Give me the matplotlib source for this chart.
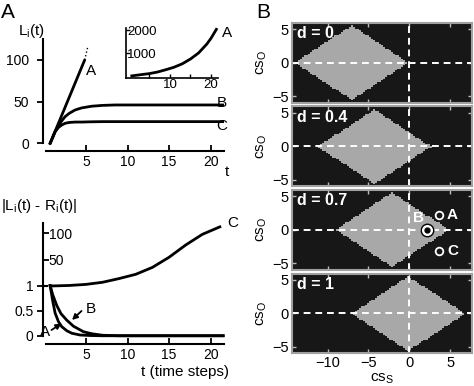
import numpy as np
import matplotlib.pyplot as plt
from matplotlib.colors import ListedColormap

plt.rcParams['font.family'] = ['Liberation Sans', 'DejaVu Sans']
plt.rcParams['font.size'] = 10
plt.rcParams['mathtext.fontset'] = 'custom'
plt.rcParams['mathtext.rm'] = 'Liberation Sans'
plt.rcParams['mathtext.it'] = 'Liberation Sans'

W, H = 474, 386

# ---- panel A, top: L_i(t) ----
t_a = [0.7, 4.85]
len_a = [0, 100]
t_a_dot = [4.85, 5.25]
len_a_dot = [100, 117]
t_bc = [0.7, 1.3, 1.7, 2.1, 2.5, 3.0, 3.7, 4.5, 5.7, 7.0, 8.5, 12, 21.5]
len_b = [0, 14, 21, 27, 32, 36, 40, 42.5, 44.5, 45.5, 46, 46, 46]
len_c = [0, 14, 19, 22, 24, 25, 25.5, 25.5, 25.8, 26, 26, 26, 26]

# inset: A over the whole run
t_inset = [0.7, 3, 5, 7, 9, 11, 13, 15, 17, 19, 20, 21.3]
len_inset = [0, 55, 100, 170, 270, 380, 530, 740, 1010, 1400, 1650, 2040]

# ---- panel A, bottom: |L_i(t) - R_i(t)| ----
t_diff_c = [0.7, 3, 5, 7, 9, 11, 13, 15, 17, 19, 21.1]
diff_c = [1, 2, 4, 8, 15, 23, 36, 55, 78, 98, 112]
t_diff_a = [0.7, 1.0, 1.3, 1.7, 2.1, 2.7, 3.3, 4.3, 5.5, 7, 21.5]
diff_a = [1, 0.7, 0.45, 0.28, 0.18, 0.1, 0.05, 0.015, 0.005, 0, 0]
t_diff_b = [0.7, 1.0, 1.5, 2.0, 2.7, 3.5, 4.7, 5.7, 7, 9, 21.5]
diff_b = [1, 0.82, 0.6, 0.44, 0.31, 0.19, 0.08, 0.04, 0.01, 0, 0]

# ---- panel B: regions in (cs_S, cs_O) ----
d_values = ['0', '0.4', '0.7', '1']
diamond_center = [-7.0, -4.2, -2.0, 0.0]
diamond_half_w = 7.0
diamond_half_h = 5.6
pts_label = ['A', 'B', 'C']
pts_x = [3.7, 2.2, 3.7]
pts_y = [2.2, 0.0, -3.1]


def px_axes(left, top, right, bottom):
    return fig.add_axes([left / W, 1 - bottom / H, (right - left) / W, (bottom - top) / H])


def ftxt(x, y, s, **kw):
    fig.text(x / W, 1 - y / H, s, **kw)


def farrow(x0, y0, x1, y1):
    # small arrow between two pixel positions of the figure
    fig.add_artist(plt.Annotation('', xy=(x1 / W, 1 - y1 / H), xytext=(x0 / W, 1 - y0 / H),
                                  xycoords='figure fraction',
                                  arrowprops=dict(arrowstyle='-|>', color='black', lw=1.3,
                                                  mutation_scale=8, shrinkA=0, shrinkB=0)))


fig = plt.figure(figsize=(W / 100, H / 100), dpi=100)

lw = 2.0

# main L_i(t)
ax = px_axes(43, 30, 224, 150.7)
ax.plot(t_a, len_a, color='black', lw=lw, solid_capstyle='round')
ax.plot(t_a_dot, len_a_dot, color='black', lw=1.0, ls=':')
ax.plot(t_bc, len_b, color='black', lw=lw)
ax.plot(t_bc, len_c, color='black', lw=lw)
ax.set_xlim(-0.16, 21.6)
ax.set_ylim(-8.9, 136)
for s in ['top', 'right']:
    ax.spines[s].set_visible(False)
ax.spines['left'].set_bounds(0, 125)
ax.spines['bottom'].set_bounds(0.2, 21.6)
for s in ['left', 'bottom']:
    ax.spines[s].set_linewidth(1.5)
ax.set_yticks([0, 50, 100])
ax.set_xticks([5, 10, 15, 20])
ax.tick_params(axis='y', direction='out', length=4, width=1.3, labelsize=10, pad=6)
ax.tick_params(axis='x', direction='in', length=4, width=1.3, labelsize=10, pad=3)
ax.patch.set_alpha(0)

# inset
axi = px_axes(126, 28, 218, 77.7)
axi.plot(t_inset, len_inset, color='black', lw=lw, clip_on=False)
axi.set_xlim(-0.7, 21.7)
axi.set_ylim(-80, 2100)
for s in ['top', 'right']:
    axi.spines[s].set_visible(False)
for s in ['left', 'bottom']:
    axi.spines[s].set_linewidth(1.2)
axi.set_yticks([1000, 2000])
axi.set_xticks([10, 20])
axi.set_xticks([5, 15], minor=True)
axi.tick_params(axis='y', direction='in', length=3, width=1, labelsize=9.5, pad=-1)
for lab in axi.get_yticklabels():
    lab.set_horizontalalignment('left')
axi.tick_params(axis='x', which='both', direction='in', length=3, width=1, labelsize=9.5, pad=1)
axi.patch.set_alpha(0)

# bottom, upper part (C)
axu = px_axes(43, 222.6, 224, 286)
axu.plot(t_diff_c, diff_c, color='black', lw=lw, clip_on=False)
axu.set_xlim(-0.16, 21.6)
axu.set_ylim(1, 120)
for s in ['top', 'right']:
    axu.spines[s].set_visible(False)
axu.spines['bottom'].set_bounds(-0.16, 0.3)
for s in ['left', 'bottom']:
    axu.spines[s].set_linewidth(1.5)
axu.set_xticks([])
axu.set_yticks([50, 100])
axu.tick_params(axis='y', direction='in', length=4, width=1.3, labelsize=10, pad=-4)
for lab in axu.get_yticklabels():
    lab.set_horizontalalignment('left')
axu.patch.set_alpha(0)

# bottom, lower part (A, B)
axl = px_axes(43, 285.5, 224, 344)
axl.plot(t_diff_a, diff_a, color='black', lw=lw, clip_on=False)
axl.plot(t_diff_b, diff_b, color='black', lw=lw, clip_on=False)
axl.set_xlim(-0.16, 21.6)
axl.set_ylim(-0.164, 1.0)
for s in ['top', 'right']:
    axl.spines[s].set_visible(False)
axl.spines['left'].set_bounds(0, 1)
axl.spines['bottom'].set_bounds(0.2, 21.6)
for s in ['left', 'bottom']:
    axl.spines[s].set_linewidth(1.5)
axl.set_yticks([0, 0.5, 1])
axl.set_yticklabels(['0', '0.5', '1'])
axl.set_xticks([5, 10, 15, 20])
axl.tick_params(axis='y', direction='out', length=4, width=1.3, labelsize=10, pad=3)
axl.tick_params(axis='x', direction='in', length=4, width=1.3, labelsize=10, pad=3)
axl.patch.set_alpha(0)

# panel A texts
ftxt(8, 12, 'A', fontsize=15, ha='center', va='center')
ftxt(31, 31, r'L$_\mathregular{i}$(t)', fontsize=11, ha='center', va='center')
ftxt(91, 71, 'A', fontsize=11, ha='center', va='center')
ftxt(222, 103, 'B', fontsize=11, ha='center', va='center')
ftxt(222, 126, 'C', fontsize=11, ha='center', va='center')
ftxt(227, 33, 'A', fontsize=11, ha='center', va='center')
ftxt(227, 172, 't', fontsize=11, ha='center', va='center')
ftxt(1, 206, r'|L$_\mathregular{i}$(t) - R$_\mathregular{i}$(t)|', fontsize=11, ha='left', va='center')
ftxt(233, 223, 'C', fontsize=11, ha='center', va='center')
ftxt(91, 309, 'B', fontsize=11, ha='center', va='center')
ftxt(45, 332, 'A', fontsize=11, ha='center', va='center')
ftxt(229, 372, 't (time steps)', fontsize=11, ha='right', va='center')
farrow(81.5, 311, 72, 320)
farrow(51.5, 330, 61.5, 323.5)

# ---- panel B ----
ftxt(263, 12, 'B', fontsize=15, ha='center', va='center')
xs = np.arange(-14.4, 7.65, 0.25)
ys = np.arange(-5.9, 5.9, 0.25)
gx, gy = np.meshgrid(xs + 0.125, ys + 0.125)
cmap = ListedColormap(['#171717', '#a8a8a8'])
tops = [23, 106.5, 190, 273.5]
for i, top in enumerate(tops):
    axb = px_axes(291.7, top, 471.7, top + 79.5)
    mask = (np.abs(gx - diamond_center[i]) / diamond_half_w + np.abs(gy) / diamond_half_h) <= 1
    axb.imshow(mask.astype(float), cmap=cmap, vmin=0, vmax=1, origin='lower',
               extent=(-14.4, 7.6, -5.9, 5.85), interpolation='nearest', aspect='auto')
    axb.set_xlim(-14.4, 7.65)
    axb.set_ylim(-5.9, 5.9)
    axb.set_facecolor('#171717')
    axb.axhline(0, color='white', lw=1.4, ls=(0, (3.5, 2.5)))
    axb.axvline(0, color='white', lw=1.4, ls=(0, (3.5, 2.5)))
    for s in axb.spines.values():
        s.set_color('#a0a0a0')
        s.set_linewidth(1.5)
    axb.set_xticks([-10, -5, 0, 5])
    axb.set_yticks([-5, 0, 5])
    axb.tick_params(direction='in', length=3, width=1, color='#bbbbbb', labelsize=10.5,
                    top=True, right=True, pad=2)
    if i < 3:
        axb.tick_params(labelbottom=False)
    axb.text(-13.7, 4.3, 'd = ' + d_values[i], color='white', fontsize=11.5,
             fontweight='bold', ha='left', va='center')
    ftxt(262, top + 39.75, r'cs$_\mathregular{O}$', fontsize=11, rotation=90,
         ha='center', va='center')
    if i == 2:
        for lab, px_, py_ in zip(pts_label, pts_x, pts_y):
            if lab == 'B':
                axb.plot(px_, py_, 'o', ms=9, mfc='white', mec='black', mew=1)
                axb.plot(px_, py_, 'o', ms=3.5, color='black')
                axb.text(px_ - 1.1, py_ + 1.7, lab, color='white', fontsize=11,
                         fontweight='bold', ha='center', va='center')
            else:
                axb.plot(px_, py_, 'o', ms=5.5, mfc='#171717', mec='white', mew=1.3)
                axb.text(px_ + 1.6, py_, lab, color='white', fontsize=11,
                         fontweight='bold', ha='center', va='center')
    if i == 3:
        axb.set_xlabel(r'cs$_\mathregular{S}$', fontsize=11, labelpad=1)

fig.savefig('out.png', dpi=100)
